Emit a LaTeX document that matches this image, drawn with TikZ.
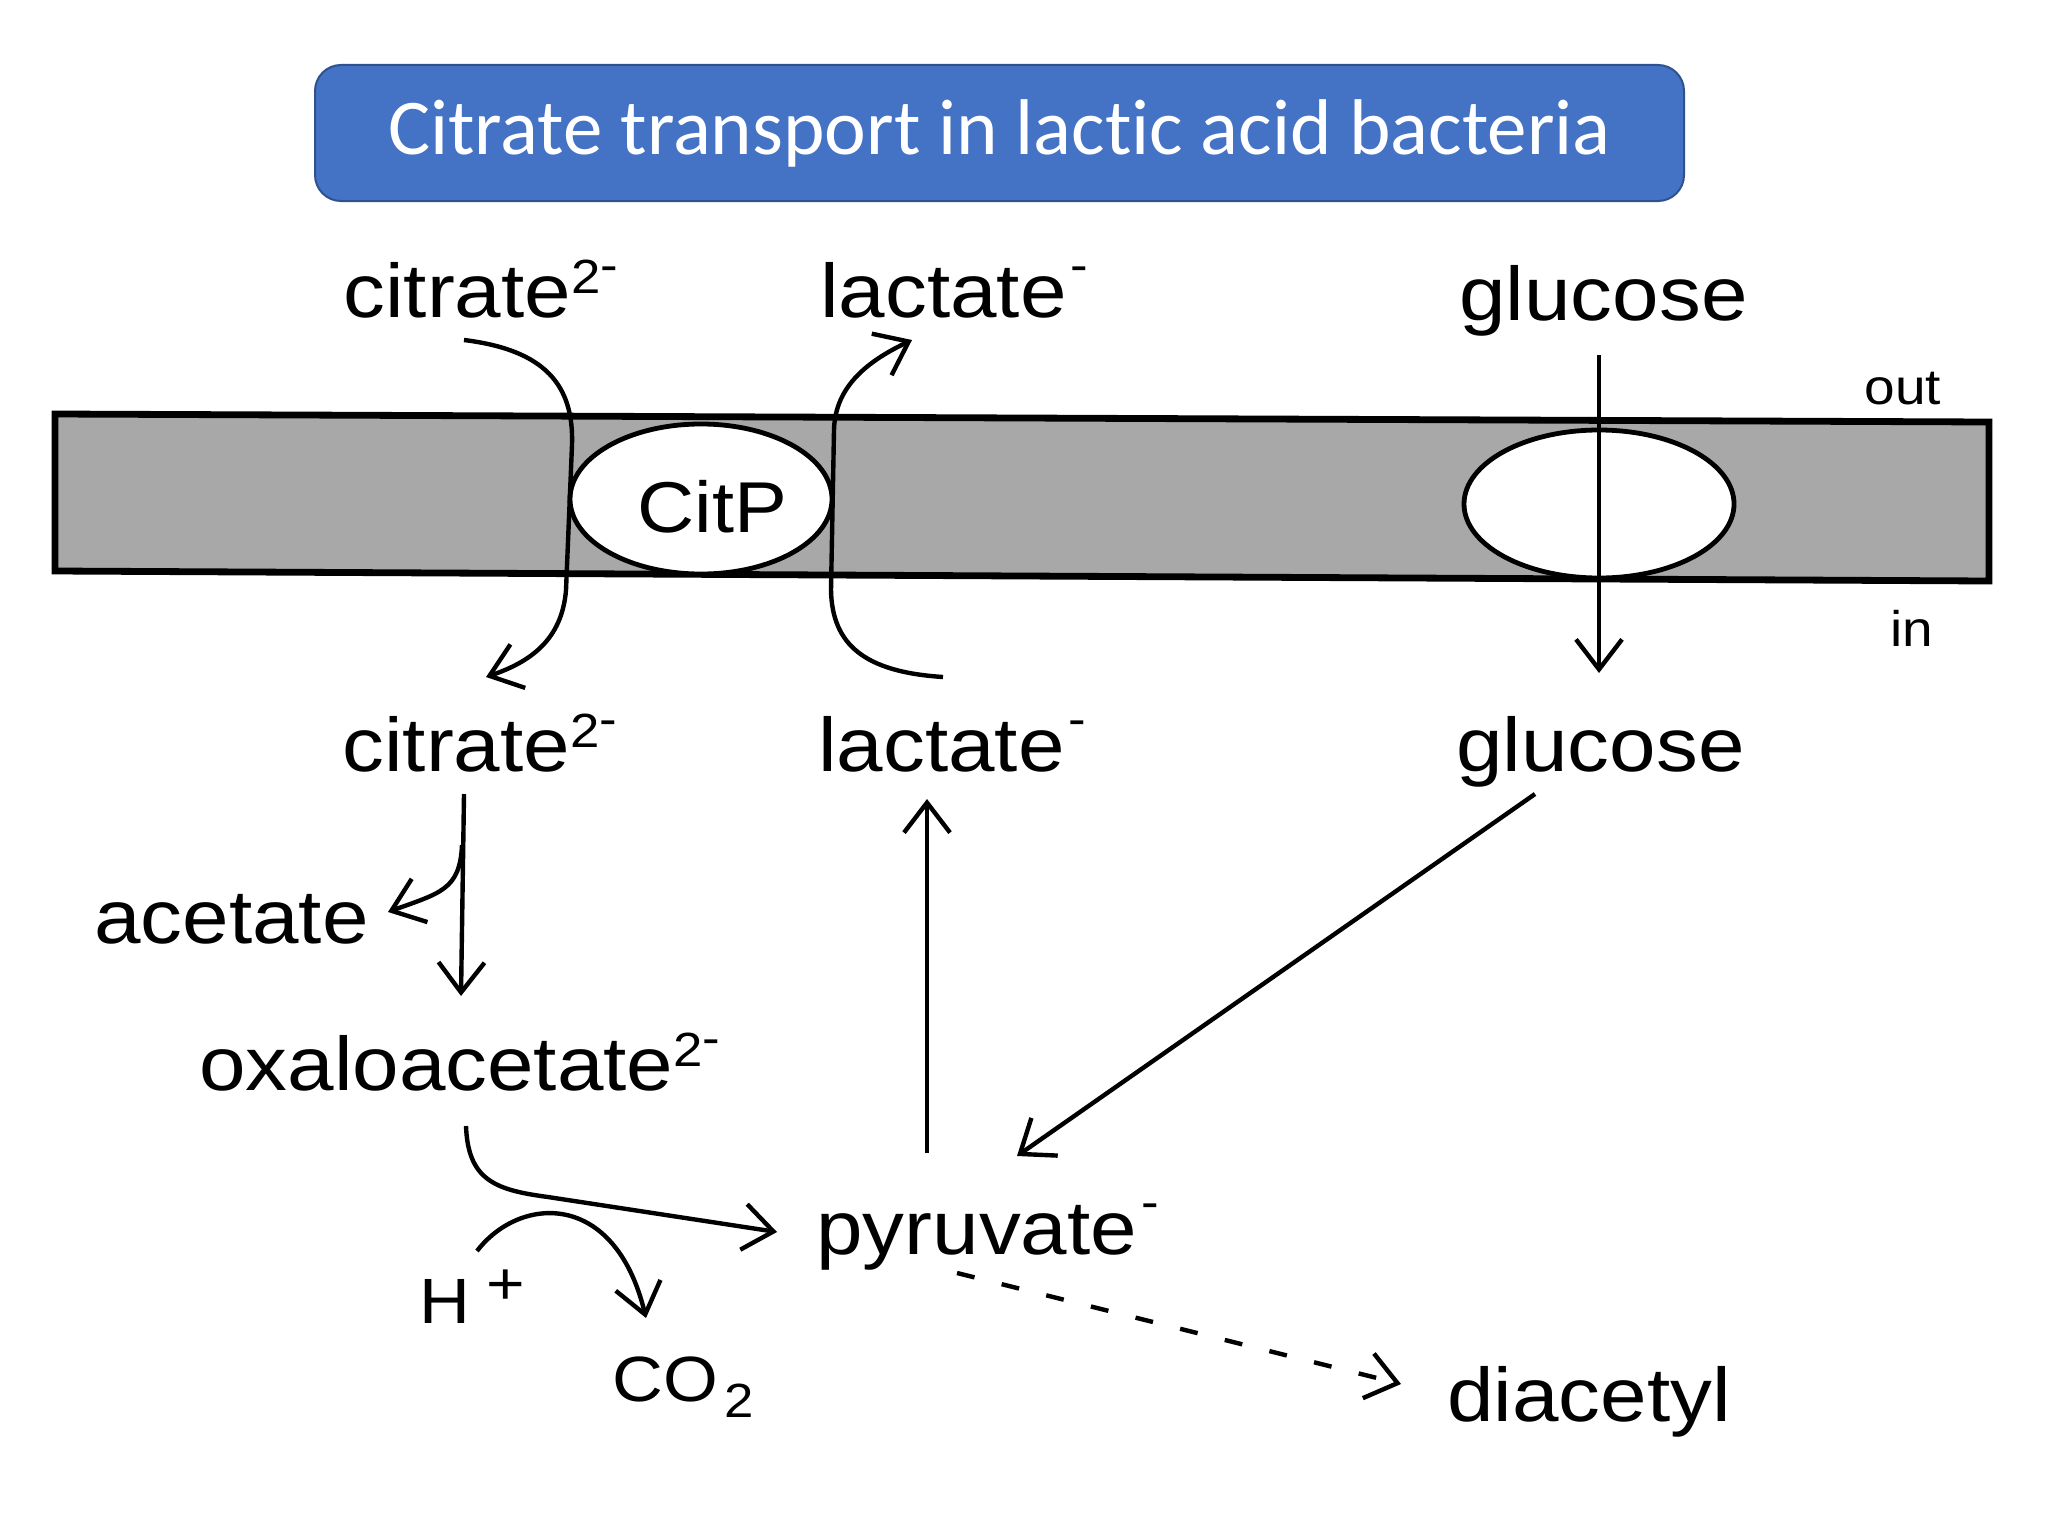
\documentclass[tikz,border=0pt]{standalone}
\usepackage{fontspec}
\usetikzlibrary{arrows.meta,shapes.geometric}
\newfontfamily\lab[FakeStretch=1.1]{Liberation Sans}
\newfontfamily\ttl[Ligatures=NoCommon]{Carlito}
\definecolor{titleblue}{HTML}{4472C4}
\definecolor{titleedge}{HTML}{2F528F}
\newcommand\chtwo{\raisebox{12pt}{\fontsize{24pt}{24pt}\selectfont 2\raisebox{6pt}{-}}}
\newcommand\chone{\raisebox{12pt}{\fontsize{24pt}{24pt}\selectfont\hspace{2pt}\raisebox{6pt}{-}}}
\begin{document}
\begin{tikzpicture}[x=0.5pt,y=-0.5pt,
  lab/.style={font=\lab\fontsize{38pt}{44pt}\selectfont, inner sep=0pt, anchor=base west},
  smalllab/.style={font=\lab\fontsize{25pt}{28pt}\selectfont, inner sep=0pt, anchor=base west},
  arr/.style={line width=2.2pt, -{Straight Barb[length=15pt,width=23pt,line width=2.2pt]}},
  carrier/.style={ellipse, draw, fill=white, line width=2.4pt, inner sep=0pt}
  ]
\useasboundingbox (0,0) rectangle (2048,1536);
\fill[white] (0,0) rectangle (2048,1536);

% title
\node[fill=titleblue, draw=titleedge, line width=1pt, rounded corners=13pt,
      minimum width=684.5pt, minimum height=68pt, inner sep=0pt,
      text=white, font=\ttl\fontsize{39.5pt}{44pt}\selectfont] (title) at (999.5,133)
      {Citrate transport in lactic acid bacteria};

% membrane
\draw[line width=3.4pt, fill=black!34] (55,414) -- (1989,422) -- (1989,581) -- (55,571) -- cycle;
\node[carrier, minimum width=131pt, minimum height=75pt] (citp) at (701,499) {};
\node[carrier, minimum width=135pt, minimum height=74pt] (glut) at (1599,504) {};
\node[lab, font=\lab\fontsize{36pt}{40pt}\selectfont] (citplab) at (637,532) {CitP};

% labels
\node[lab] (citout) at (343,317) {citrate\chtwo};
\node[lab] (lacout) at (820,317) {lactate\chone};
\node[lab] (gluout) at (1459,320) {glucose};
\node[smalllab] (outlab) at (1864,404) {out};
\node[smalllab] (inlab) at (1890,646) {in};
\node[lab] (citin) at (342,771) {citrate\chtwo};
\node[lab] (lacin) at (818,771) {lactate\chone};
\node[lab] (gluin) at (1456,771) {glucose};
\node[lab] (acet) at (94,943) {acetate};
\node[lab] (oxa) at (199,1090) {oxaloacetate\chtwo};
\node[lab] (pyr) at (816,1254) {pyruvate\chone};
\node[lab, font=\lab\fontsize{32pt}{36pt}\selectfont] (hplus) at (419,1323)
   {H\hspace{8pt}\raisebox{9.5pt}{\fontsize{30pt}{30pt}\selectfont +}};
\node[lab, font=\lab\fontsize{32pt}{36pt}\selectfont] (co2) at (612,1401)
   {CO\hspace{3pt}\raisebox{-8pt}{\fontsize{24pt}{24pt}\selectfont 2}};
\node[lab] (diac) at (1447,1421) {diacetyl};

% connector end points
\coordinate (cA) at (464,340);
\coordinate (cB) at (486,677);
\coordinate (lA) at (943,677);
\coordinate (lB) at (912,340);
\coordinate (gA) at (1599,355);
\coordinate (gB) at (1599,673);
\coordinate (kA) at (464,794);
\coordinate (kB) at (461,996);
\coordinate (aA) at (462,845);
\coordinate (aB) at (388,912);
\coordinate (pA) at (927,1153);
\coordinate (pB) at (927,799);
\coordinate (qA) at (1535,794);
\coordinate (qB) at (1017,1156);
\coordinate (oA) at (466,1126);
\coordinate (oB) at (777,1232);
\coordinate (hA) at (477,1251);
\coordinate (hB) at (646,1318);
\coordinate (dA) at (957,1273);
\coordinate (dB) at (1401,1384);

% connectors
\draw[arr] (cA) .. controls (545,350) and (574,385) .. (572,445) -- (566,590)
   .. controls (562,640) and (530,662) .. (cB);
\draw[arr] (lA) .. controls (865,672) and (832,645) .. (831,590) -- (834,430)
   .. controls (835,385) and (870,360) .. (lB);
\draw[arr] (gA) -- (gB);
\draw[arr] (kA) -- (kB);
\draw[arr] (aA) .. controls (460,890) and (440,893) .. (aB);
\draw[arr] (pA) -- (pB);
\draw[arr] (qA) -- (qB);
\draw[arr] (oA) .. controls (468,1180) and (495,1190) .. (548,1197) -- (oB);
\draw[arr] (hA) .. controls (520,1195) and (615,1190) .. (hB);
\draw[arr, dash pattern=on 9pt off 14pt] (dA) -- (dB);
\end{tikzpicture}
\end{document}
